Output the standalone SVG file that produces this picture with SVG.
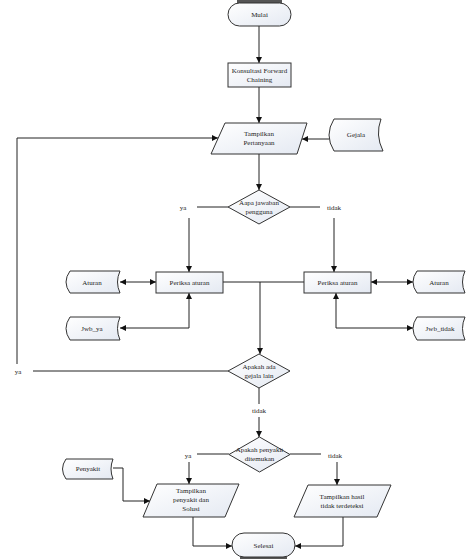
<svg xmlns="http://www.w3.org/2000/svg" width="474" height="559" viewBox="0 0 474 559">
<defs>
<linearGradient id="g" x1="0" y1="0" x2="1" y2="1">
<stop offset="0" stop-color="#ffffff"/>
<stop offset="1" stop-color="#e4e9f2"/>
</linearGradient>
<marker id="ah" viewBox="0 0 10 10" refX="10" refY="5" markerWidth="6" markerHeight="6" orient="auto-start-reverse" markerUnits="userSpaceOnUse">
<path d="M0,0 L10,5 L0,10 Z" fill="#111"/>
</marker>
</defs>
<style>
.s{fill:url(#g);stroke:#333;stroke-width:1}
.sh{fill:#555}
.t{font-family:"Liberation Serif","Times New Roman",serif;font-size:7px;fill:#222;text-anchor:middle}
.c{fill:none;stroke:#222;stroke-width:1}
</style>
<rect width="474" height="559" fill="#fff"/>
<g id="connectors">
<path class="c" d="M259,26 L259,63" marker-end="url(#ah)"/>
<path class="c" d="M259,87 L259,123" marker-end="url(#ah)"/>
<path class="c" d="M329,139 L302,139" marker-end="url(#ah)"/>
<path class="c" d="M17,364 L17,138 L218,138" marker-end="url(#ah)"/>
<path class="c" d="M228,371 L33,371"/>
<path class="c" d="M259,154 L259,190" marker-end="url(#ah)"/>
<path class="c" d="M228,207 L197,207"/>
<path class="c" d="M189,218 L189,272" marker-end="url(#ah)"/>
<path class="c" d="M290,207 L320,207"/>
<path class="c" d="M334,218 L334,272" marker-end="url(#ah)"/>
<path class="c" d="M223,282 L304,282"/>
<path class="c" d="M260,282 L260,354" marker-end="url(#ah)"/>
<path class="c" d="M120,282 L156,282" marker-start="url(#ah)" marker-end="url(#ah)"/>
<path class="c" d="M371,282 L413,282" marker-start="url(#ah)" marker-end="url(#ah)"/>
<path class="c" d="M120,328 L189,328 L189,293" marker-start="url(#ah)" marker-end="url(#ah)"/>
<path class="c" d="M336,293 L336,328 L413,328" marker-start="url(#ah)" marker-end="url(#ah)"/>
<path class="c" d="M259,388 L259,404"/>
<path class="c" d="M259,417 L259,437" marker-end="url(#ah)"/>
<path class="c" d="M229,454 L197,454"/>
<path class="c" d="M189,462 L189,484" marker-end="url(#ah)"/>
<path class="c" d="M290,454 L321,454"/>
<path class="c" d="M337,462 L337,485" marker-end="url(#ah)"/>
<path class="c" d="M113,468 L123,468 L123,501 L150,501" marker-end="url(#ah)"/>
<path class="c" d="M193,517 L193,546 L232,546" marker-end="url(#ah)"/>
<path class="c" d="M343,517 L343,546 L295,546" marker-end="url(#ah)"/>
<text class="t" x="183" y="210">ya</text>
<text class="t" x="334" y="210">tidak</text>
<text class="t" x="18" y="374">ya</text>
<text class="t" x="259" y="413">tidak</text>
<text class="t" x="188" y="458">ya</text>
<text class="t" x="335" y="458">tidak</text>
</g>
<g id="mulai">
<rect class="sh" x="237" y="0" width="45" height="3"/>
<rect class="s" x="228" y="3" width="63" height="23" rx="11.5"/>
<text class="t" x="259.5" y="17">Mulai</text>
</g>
<g id="konsultasi">
<rect class="s" x="228" y="63" width="63" height="24"/>
<text class="t" x="259.5" y="73">Konsultasi Forward</text>
<text class="t" x="259.5" y="82">Chaining</text>
</g>
<g id="tampilkan-pertanyaan">
<path class="s" d="M225,123 L307,123 L297,154 L211,154 Z"/>
<text class="t" x="259" y="136">Tampilkan</text>
<text class="t" x="259" y="145">Pertanyaan</text>
</g>
<g id="gejala">
<path class="s" d="M334,119 L381,119 Q375,135 383,151 L334,151 Q324,135 334,119 Z"/>
<text class="t" x="356" y="137">Gejala</text>
</g>
<g id="aapa-jawaban">
<path class="s" d="M259,190 L290,207 L259,224 L228,207 Z"/>
<text class="t" x="259" y="205">Aapa jawaban</text>
<text class="t" x="259" y="214">pengguna</text>
</g>
<g id="aturan-kiri">
<path class="s" d="M70,271 L120,271 Q115,282 120,293 L70,293 Q62,282 70,271 Z"/>
<text class="t" x="92" y="285">Aturan</text>
</g>
<g id="periksa-kiri">
<rect class="s" x="156" y="272" width="67" height="21"/>
<text class="t" x="189.5" y="285">Periksa aturan</text>
</g>
<g id="periksa-kanan">
<rect class="s" x="304" y="272" width="67" height="21"/>
<text class="t" x="337.5" y="285">Periksa aturan</text>
</g>
<g id="aturan-kanan">
<path class="s" d="M417,271 L465,271 Q460,282 465,293 L417,293 Q409,282 417,271 Z"/>
<text class="t" x="439" y="285">Aturan</text>
</g>
<g id="jwb-ya">
<path class="s" d="M70,317 L120,317 Q115,328.5 120,340 L70,340 Q62,328.5 70,317 Z"/>
<text class="t" x="92" y="331">Jwb_ya</text>
</g>
<g id="jwb-tidak">
<path class="s" d="M417,317 L465,317 Q460,328.5 465,340 L417,340 Q409,328.5 417,317 Z"/>
<text class="t" x="440" y="331">Jwb_tidak</text>
</g>
<g id="gejala-lain">
<path class="s" d="M259,354 L290,371 L259,388 L228,371 Z"/>
<text class="t" x="259" y="369">Apakah ada</text>
<text class="t" x="259" y="378">gejala lain</text>
</g>
<g id="penyakit-ditemukan">
<path class="s" d="M259.5,437 L290,454.5 L259.5,472 L229,454.5 Z"/>
<text class="t" x="259.5" y="452">Apakah penyakit</text>
<text class="t" x="259.5" y="461">ditemukan</text>
</g>
<g id="penyakit">
<path class="s" d="M66,459 L113,459 Q109,469 113,479 L66,479 Q59,469 66,459 Z"/>
<text class="t" x="88" y="471">Penyakit</text>
</g>
<g id="tampilkan-penyakit">
<path class="s" d="M157,484 L239,484 L225,517 L143,517 Z"/>
<text class="t" x="191" y="493">Tampilkan</text>
<text class="t" x="191" y="502">penyakit dan</text>
<text class="t" x="191" y="511">Solusi</text>
</g>
<g id="tampilkan-hasil">
<path class="s" d="M308,485 L391,485 L377,517 L294,517 Z"/>
<text class="t" x="342" y="499">Tampilkan hasil</text>
<text class="t" x="342" y="508">tidak terdeteksi</text>
</g>
<g id="selesai">
<rect class="sh" x="240" y="556" width="47" height="3"/>
<rect class="s" x="232" y="533" width="63" height="24" rx="12"/>
<text class="t" x="263.5" y="548">Selesai</text>
</g>
</svg>
